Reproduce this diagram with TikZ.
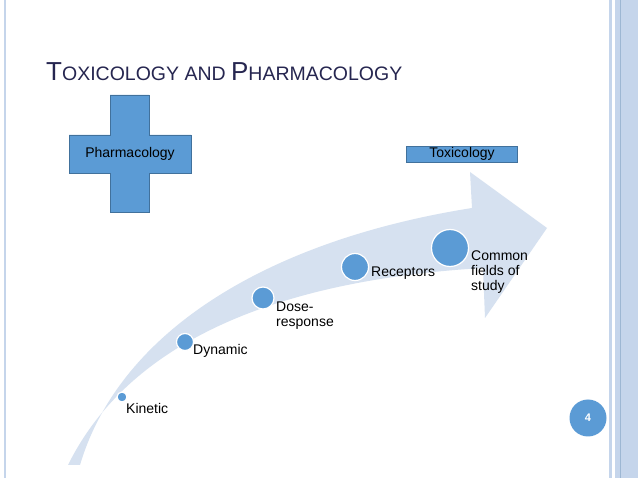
\documentclass[tikz,border=0pt]{standalone}
\usepackage{fontspec}
\setmainfont{Liberation Sans}
\begin{document}
\begin{tikzpicture}[x=1pt,y=-1pt,
  blu/.style={fill=blue1,draw=blue2,line width=0.8pt},
  dot/.style={circle,fill=blue1,draw=white,line width=1.2pt,inner sep=0pt},
  lab/.style={font=\fontsize{14}{15}\selectfont,anchor=north west,align=left,inner sep=0pt}]
\definecolor{blue1}{HTML}{5B9BD5}
\definecolor{blue2}{HTML}{41719C}
\definecolor{arr}{HTML}{D6E1F0}
\definecolor{band}{HTML}{C5D5EB}
\definecolor{navy}{HTML}{262650}
\useasboundingbox (0,0) rectangle (638,478);
\fill[white] (0,0) rectangle (638,478);
% borders
\fill[band] (4,0) rectangle (6,478);
\fill[band] (609,0) rectangle (612,478);
\fill[band] (615,0) rectangle (638,478);
\fill[band!70!blue2] (620,0) rectangle (621,478);
% title
\node[anchor=base west,inner sep=0pt,text=navy] (title) at (46,81)
  {\fontsize{26}{26}\selectfont T\fontsize{19.5}{20}\selectfont OXICOLOGY AND \fontsize{26}{26}\selectfont P\fontsize{19.5}{20}\selectfont HARMACOLOGY};
% cross
\draw[blu] (110,95) -- (149,95) -- (149,135) -- (191,135) -- (191,173) -- (149,173) -- (149,212) -- (110,212) -- (110,173) -- (69,173) -- (69,135) -- (110,135) -- cycle;
\node[font=\fontsize{14}{15}\selectfont] (pharm) at (130,154) {Pharmacology};
% toxicology box
\node[blu,minimum width=111pt,minimum height=16pt,inner sep=0pt,font=\fontsize{14}{15}\selectfont] (tox) at (462,154) {Toxicology};
% arrow
\fill[arr] (68,465) .. controls (130,340) and (280,280) .. (483,268)
  -- (485,318) -- (547,228) -- (470,172) -- (472,208)
  .. controls (270,240) and (120,330) .. (80,465) -- cycle;
% dots
\node[dot,minimum size=10pt] (d1) at (122,397) {};
\node[dot,minimum size=17pt] (d2) at (185,342) {};
\node[dot,minimum size=22pt] (d3) at (263,298) {};
\node[dot,minimum size=27pt] (d4) at (355,267) {};
\node[dot,minimum size=37pt] (d5) at (450,248) {};
\node[lab] (l1) at (126,403) {Kinetic};
\node[lab] (l2) at (193,344) {Dynamic};
\node[lab] (l3) at (276,302) {Dose-\\response};
\node[lab] (l4) at (371,267) {Receptors};
\node[lab] (l5) at (471,251) {Common\\fields of\\study};
% page number
\node[circle,fill=blue1,minimum size=37pt,inner sep=0pt,text=white,font=\fontsize{11}{11}\selectfont\bfseries] (pg) at (588,418) {4};
\end{tikzpicture}
\end{document}
